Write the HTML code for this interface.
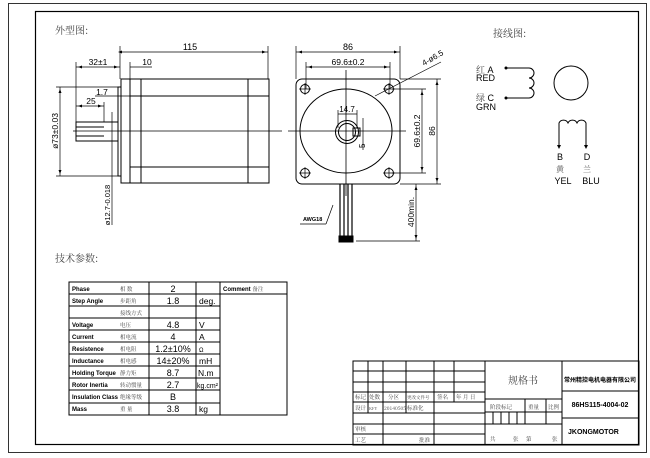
<!DOCTYPE html>
<html><head><meta charset="utf-8"><style>
body{margin:0;background:#fff}
svg{display:block}
text{font-family:"Liberation Sans","Noto Sans CJK SC",sans-serif;fill:#000}
.s{font-family:"Noto Serif CJK SC","Liberation Serif",serif;fill:#444}
</style></head><body>
<svg width="650" height="458" viewBox="0 0 650 458" xmlns="http://www.w3.org/2000/svg">
<g fill="none" stroke="#000" stroke-width="1">
<rect x="8.5" y="3.5" width="638" height="449" stroke="#333"/>
<rect x="35.5" y="11.5" width="603" height="433" stroke-width="1.2"/>
<rect x="121" y="79" width="148" height="104"/>
<line x1="130" y1="79" x2="130" y2="183"/>
<line x1="141" y1="79" x2="141" y2="183"/>
<line x1="248" y1="79" x2="248" y2="183"/>
<line x1="130" y1="96" x2="269" y2="96"/>
<line x1="130" y1="167" x2="269" y2="167"/>
<rect x="118" y="87" width="3" height="89"/>
<rect x="76" y="122" width="42" height="19"/>
<line x1="76" y1="127" x2="104" y2="127"/>
<line x1="76" y1="136" x2="104" y2="136"/>
<line x1="73" y1="131" x2="282" y2="131" stroke-width="0.8"/>
<g stroke-width="0.7">
<line x1="120" y1="46" x2="120" y2="79"/><line x1="268" y1="46" x2="268" y2="79"/>
<line x1="120" y1="52" x2="268" y2="52"/>
<line x1="76" y1="62" x2="76" y2="122"/><line x1="76" y1="67" x2="120" y2="67"/>
<line x1="130" y1="62" x2="130" y2="79"/><line x1="130" y1="67" x2="152" y2="67"/>
<line x1="104" y1="102" x2="104" y2="122"/><line x1="76" y1="106" x2="104" y2="106"/>
<line x1="95" y1="96" x2="130" y2="96"/>
<line x1="56" y1="87" x2="118" y2="87"/><line x1="56" y1="176" x2="118" y2="176"/>
<line x1="60" y1="87" x2="60" y2="176"/>
<line x1="112" y1="112" x2="112" y2="225"/>
</g>
<rect x="296" y="79" width="104" height="105" rx="6"/>
<ellipse cx="346" cy="131" rx="46" ry="42"/>
<circle cx="347" cy="132" r="11.5"/>
<circle cx="347" cy="132" r="8.5"/>
<rect x="353" y="128" width="7" height="8"/>
<g stroke-width="0.8">
<line x1="288" y1="131" x2="406" y2="131"/>
<line x1="346" y1="70" x2="346" y2="196"/>
</g>
<g>
<circle cx="305" cy="89" r="4.5"/><circle cx="389" cy="89" r="4.5"/>
<circle cx="305" cy="173" r="4.5"/><circle cx="389" cy="173" r="4.5"/>
<path d="M299 89h12M305 83v12M383 89h12M389 83v12M299 173h12M305 167v12M383 173h12M389 167v12" stroke-width="0.7"/>
</g>
<g stroke-width="0.7">
<line x1="296" y1="46" x2="296" y2="79"/><line x1="400" y1="46" x2="400" y2="79"/>
<line x1="296" y1="52" x2="400" y2="52"/>
<line x1="306" y1="62" x2="306" y2="89"/><line x1="390" y1="62" x2="390" y2="89"/>
<line x1="306" y1="67" x2="390" y2="67"/>
<line x1="375" y1="96" x2="441" y2="62"/>
<line x1="392" y1="89" x2="426" y2="89"/><line x1="392" y1="173" x2="426" y2="173"/>
<line x1="422" y1="89" x2="422" y2="173"/>
<line x1="400" y1="79" x2="441" y2="79"/><line x1="400" y1="184" x2="441" y2="184"/>
<line x1="437" y1="79" x2="437" y2="184"/>
<line x1="338" y1="110" x2="338" y2="128"/><line x1="357" y1="110" x2="357" y2="128"/>
<line x1="338" y1="114" x2="357" y2="114"/>
<line x1="363" y1="118" x2="363" y2="150"/>
<line x1="356" y1="241" x2="420" y2="241"/>
<line x1="416" y1="184" x2="416" y2="241"/>
<line x1="333" y1="205" x2="326" y2="224"/><line x1="326" y1="224" x2="300" y2="224"/>
</g>
<g stroke-width="1.2">
<line x1="340" y1="184" x2="340" y2="241"/><line x1="344" y1="184" x2="344" y2="241"/>
<line x1="348" y1="184" x2="348" y2="241"/><line x1="352" y1="184" x2="352" y2="241"/>
</g>
<path d="M339 236h14v6h-14z" fill="#000"/>
<path d="M506 68h23a5 5 0 0 1 0 10a5 5 0 0 1 0 10a5 5 0 0 1 0 10v0h-23" />
<circle cx="571" cy="83" r="17"/>
<path d="M559 148v-25a5 5 0 0 1 9 0a5 5 0 0 1 9 0a5 5 0 0 1 9 0v25"/>
</g>
<g fill="#000">
<circle cx="506" cy="68" r="1.5"/><circle cx="506" cy="98" r="1.5"/>
<path d="M557 145h4l-2 4z M584 145h4l-2 4z"/>
<path d="M118 52l4-1.5v3z M266 52l-4-1.5v3z M298 52l4-1.5v3z M398 52l-4-1.5v3z M308 67l4-1.5v3z M388 67l-4-1.5v3z M422 91l-1.5 4h3z M422 171l-1.5-4h3z M437 81l-1.5 4h3z M437 182l-1.5-4h3z M416 186l-1.5 4h3z M416 239l-1.5-4h3z M78 67l4-1.5v3z M118 67l-4-1.5v3z M78 106l4-1.5v3z M102 106l-4-1.5v3z M60 89l-1.5 4h3z M60 174l-1.5-4h3z"/>
</g>
<text x="55" y="34" class="s" font-size="10">外型图:</text>
<text x="493" y="37" class="s" font-size="10">接线图:</text>
<text x="55" y="262" class="s" font-size="10">技术参数:</text>
<text x="190" y="50" font-size="9" text-anchor="middle">115</text>
<text x="98" y="65" font-size="8.5" text-anchor="middle">32±1</text>
<text x="147" y="65" font-size="8.5" text-anchor="middle">10</text>
<text x="102" y="95" font-size="8.5" text-anchor="middle">1.7</text>
<text x="91" y="104" font-size="8.5" text-anchor="middle">25</text>
<text transform="translate(58,131) rotate(-90)" font-size="8.5" text-anchor="middle">ø73±0.03</text>
<text transform="translate(110,205) rotate(-90)" font-size="7.5" text-anchor="middle">ø12.7-0.018</text>
<text x="348" y="50" font-size="9" text-anchor="middle">86</text>
<text x="348" y="65" font-size="8.5" text-anchor="middle">69.6±0.2</text>
<text transform="translate(424,66) rotate(-30)" font-size="8" >4-ø6.5</text>
<text transform="translate(420,131) rotate(-90)" font-size="8.5" text-anchor="middle">69.6±0.2</text>
<text transform="translate(435,131) rotate(-90)" font-size="8.5" text-anchor="middle">86</text>
<text x="347" y="112" font-size="8" text-anchor="middle">14.7</text>
<text transform="translate(365,148) rotate(-90)" font-size="8">5</text>
<text transform="translate(414,212) rotate(-90)" font-size="8.5" text-anchor="middle">400min.</text>
<text x="303" y="221" font-size="5.5" font-weight="bold">AWG18</text>
<text x="476" y="73" font-size="9"><tspan class="s">红</tspan> A</text>
<text x="476" y="81" font-size="9">RED</text>
<text x="476" y="101" font-size="9"><tspan class="s">绿</tspan> C</text>
<text x="476" y="110" font-size="9">GRN</text>
<text x="560" y="160" font-size="9" text-anchor="middle">B</text>
<text x="587" y="160" font-size="9" text-anchor="middle">D</text>
<text x="560" y="172" class="s" font-size="8" text-anchor="middle">黄</text>
<text x="587" y="172" class="s" font-size="8" text-anchor="middle">兰</text>
<text x="563" y="184" font-size="9" text-anchor="middle">YEL</text>
<text x="591" y="184" font-size="9" text-anchor="middle">BLU</text>
<g fill="none" stroke="#000" stroke-width="1">
<rect x="69" y="282" width="218" height="133"/>
<line x1="149" y1="282" x2="149" y2="415"/>
<line x1="196" y1="282" x2="196" y2="415"/>
<line x1="220" y1="282" x2="220" y2="415"/>
<path d="M69 294h218M69 306h151M69 318h151M69 330h151M69 342h151M69 354h151M69 366h151M69 378h151M69 390h151M69 403h151"/>
</g>
<g font-size="6" font-weight="bold">
<text x="72" y="291">Phase</text><text x="72" y="303">Step Angle</text>
<text x="72" y="327">Voltage</text><text x="72" y="339">Current</text>
<text x="72" y="351">Resistence</text><text x="72" y="363">Inductance</text>
<text x="72" y="375">Holding Torque</text><text x="72" y="387">Rotor Inertia</text>
<text x="72" y="399">Insulation Class</text><text x="72" y="411">Mass</text>
<text x="223" y="291">Comment <tspan class="s" font-weight="normal" font-size="5.5">备注</tspan></text>
</g>
<g font-size="5.5">
<text x="120" y="291" class="s">相 数</text><text x="120" y="303" class="s">步距角</text>
<text x="120" y="315" class="s">接线方式</text><text x="120" y="327" class="s">电压</text>
<text x="120" y="339" class="s">相电流</text><text x="120" y="351" class="s">相电阻</text>
<text x="120" y="363" class="s">相电感</text><text x="120" y="375" class="s">静力矩</text>
<text x="120" y="387" class="s">转动惯量</text><text x="120" y="399" class="s">绝缘等级</text>
<text x="120" y="411" class="s">重 量</text>
</g>
<g font-size="9" text-anchor="middle">
<text x="173" y="292">2</text><text x="173" y="304">1.8</text><text x="173" y="328">4.8</text>
<text x="173" y="340">4</text><text x="173" y="352">1.2±10%</text><text x="173" y="364">14±20%</text>
<text x="173" y="376">8.7</text><text x="173" y="388">2.7</text><text x="173" y="400">B</text><text x="173" y="412">3.8</text>
</g>
<g font-size="8.5">
<text x="199" y="304">deg.</text><text x="199" y="328">V</text><text x="199" y="340">A</text>
<text x="199" y="352" font-size="6">Ω</text><text x="199" y="364">mH</text><text x="198" y="376">N.m</text>
<text x="197" y="388" font-size="7">kg.cm²</text><text x="199" y="412">kg</text>
</g>
<g fill="none" stroke="#000" stroke-width="1">
<rect x="353" y="361" width="286" height="84"/>
<line x1="485" y1="361" x2="485" y2="445"/>
<line x1="562" y1="361" x2="562" y2="445"/>
<path d="M353 371h132M353 382h132M353 392h132M353 402h132M353 413h132M353 424h132M353 434h132"/>
<path d="M368 361v41M383 361v84M406 361v41M434 361v84M454 361v41"/>
<path d="M368 402v11M406 402v11"/>
<path d="M485 399h77M485 412h77M485 424h77M525 399v25M546 399v25M493 412v12M501 412v12M509 412v12M517 412v12"/>
<path d="M562 391h77M562 418h77"/>
</g>
<g font-size="5.5">
<text x="355" y="399" class="s">标记</text><text x="369" y="399" class="s">处数</text><text x="388" y="399" class="s">分区</text>
<text x="407" y="399" class="s" font-size="4.5">更改文件号</text><text x="437" y="399" class="s">签名</text><text x="456" y="399" class="s">年 月 日</text>
<text x="355" y="410" class="s">设计</text><text x="369" y="410" class="s" font-size="4">KFY</text><text x="384" y="410" class="s" font-size="5">20140505</text><text x="407" y="410" class="s">标准化</text>
<text x="355" y="431" class="s">审核</text><text x="355" y="442" class="s">工艺</text><text x="419" y="442" class="s">批准</text>
<text x="490" y="409" class="s">阶段标记</text><text x="528" y="409" class="s">重量</text><text x="548" y="409" class="s">比例</text>
<text x="490" y="441" class="s">共</text><text x="513" y="441" class="s">张</text><text x="526" y="441" class="s">第</text><text x="552" y="441" class="s">张</text>
</g>
<text x="523" y="384" class="s" font-size="10" text-anchor="middle">规格书</text>
<text x="564" y="382" font-size="6" font-weight="bold" textLength="72" lengthAdjust="spacingAndGlyphs" font-family="Noto Sans CJK SC">常州精控电机电器有限公司</text>
<text x="600" y="407" font-size="7" font-weight="bold" text-anchor="middle">86HS115-4004-02</text>
<text x="568" y="434" font-size="7" font-weight="bold">JKONGMOTOR</text>
</svg>
</body></html>
